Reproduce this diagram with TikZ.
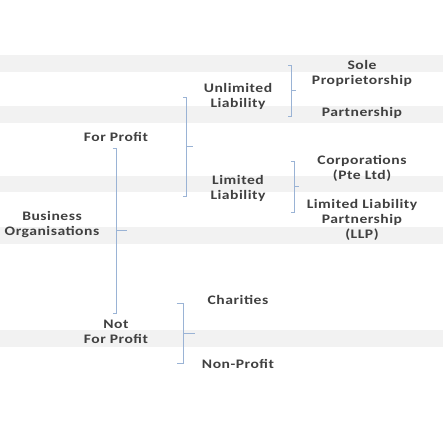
\documentclass[tikz,border=0pt]{standalone}
\usepackage{fontspec}
\setmainfont{Carlito}[FakeStretch=1.2, LetterSpace=4]
\usepackage{tikz}
\newcommand{\mybandgray}{black!5}
\definecolor{bracketblue}{HTML}{9AB3D5}
\definecolor{labelgray}{HTML}{404040}
% bracket: x, top, bottom, hook, tick
\newcommand{\orgbracket}[5]{%
\draw[bracketline] (#1-#4,#2) -- (#1,#2) -- (#1,#3) -- (#1-#4,#3);
\draw[bracketline] (#1,{(#2+#3)/2}) -- ++(#5,0);
}
\tikzset{
  orglabel/.style = {align = center, inner sep = 0pt, text = labelgray,
    font = \fontsize{13}{15}\selectfont\bfseries},
  bracketline/.style = {draw = bracketblue, line width = .8pt}
}
\begin{document}
\begin{tikzpicture}[x = 1pt, y = -1pt]
\useasboundingbox (0,0) rectangle (443,443);
\begin{scope}
\fill[\mybandgray] (0,55) rectangle (443,72.5);
\fill[\mybandgray] (0,106.5) rectangle (443,123.5);
\fill[\mybandgray] (0,176) rectangle (443,192.5);
\fill[\mybandgray] (0,227) rectangle (443,244);
\fill[\mybandgray] (0,330) rectangle (443,346.5);
\end{scope}
\begin{scope}
\orgbracket{116.5}{148}{313}{4}{10}
\orgbracket{186}{97}{196}{3}{7}
\orgbracket{291}{65}{116}{3}{5}
\orgbracket{294}{161}{212}{3}{5}
\orgbracket{183.5}{303}{363}{7}{11}
\end{scope}
\node[orglabel] (biz) at (52,224.5) {Business\\Organisations};
\node[orglabel] (forprofit) at (116,137) {For Profit};
\node[orglabel] (notprofit) at (116,331.5) {Not\\For Profit};
\node[orglabel] (unlim) at (238,96.5) {Unlimited\\Liability};
\node[orglabel] (lim) at (238,188.5) {Limited\\Liability};
\node[orglabel] (charities) at (238,300) {Charities};
\node[orglabel] (nonprofit) at (238,364) {Non-Profit};
\node[orglabel] (sole) at (362,73.5) {Sole\\Proprietorship};
\node[orglabel] (partner) at (362,113) {Partnership};
\node[orglabel] (corp) at (362,168.5) {Corporations\\(Pte Ltd)};
\node[orglabel] (llp) at (362,220) {Limited Liability\\Partnership\\(LLP)};
\end{tikzpicture}
\end{document}
